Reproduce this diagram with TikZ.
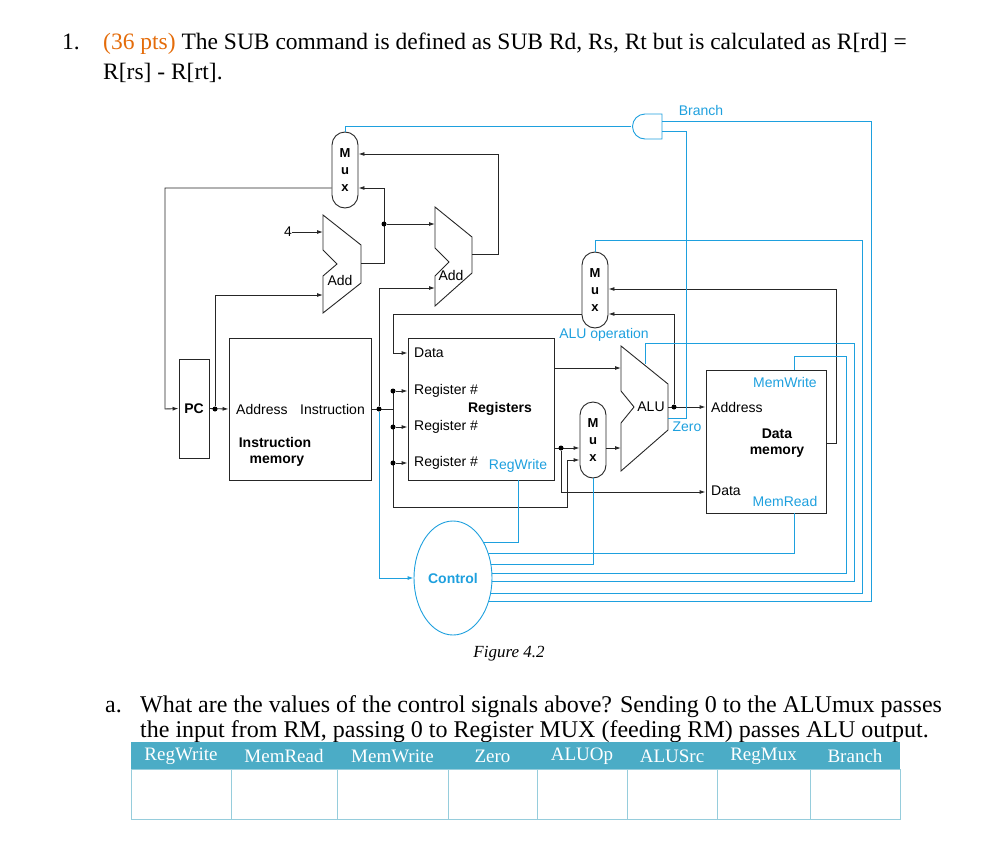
\documentclass[tikz,border=0pt]{standalone}
\usepackage{fontspec}
\setmainfont{Liberation Serif}
\newfontfamily\diagfont{Liberation Sans}
\usetikzlibrary{arrows.meta,shapes.geometric}
\definecolor{ctlblue}{RGB}{30,160,222}
\definecolor{ptsorange}{RGB}{228,108,10}
\definecolor{hdrteal}{RGB}{75,172,198}
\definecolor{gridteal}{RGB}{150,205,220}
\tikzset{
  wire/.style={draw=black!85,line width=0.9pt},
  ctl/.style={draw=ctlblue,line width=0.9pt},
  arr/.style={-{Latex[length=6pt,width=4pt]}},
  dot/.style={circle,fill=black,inner sep=0pt,minimum size=5pt},
  lbl/.style={inner sep=0pt,font=\diagfont\fontsize{14}{16}\selectfont},
  bold/.style={lbl,font=\diagfont\bfseries\fontsize{14}{16}\selectfont},
  blbl/.style={lbl,text=ctlblue},
  mux/.style={draw=black!85,line width=0.9pt,rounded corners=13pt,minimum width=26pt,
    inner sep=0pt,align=center,font=\diagfont\bfseries\fontsize{13}{17}\selectfont},
  box/.style={draw=black!85,line width=0.9pt,inner sep=0pt},
  hdr/.style={inner sep=0pt,text=white,font=\fontsize{19}{21}\selectfont},
  txt/.style={inner sep=0pt,anchor=base west,font=\fontsize{23.5}{26}\selectfont}
}
\begin{document}
\begin{tikzpicture}[x=1pt,y=-1pt]
\useasboundingbox (0,0) rectangle (1002,854);

% question text
\node[txt] at (62,49) {1.};
\node[txt] at (103,49) {{\color{ptsorange}(36 pts)} The SUB command is defined as SUB Rd, Rs, Rt but is calculated as R[rd] =};
\node[txt] at (103,79) {R[rs] - R[rt].};

% boxes
\node[box,minimum width=30pt,minimum height=99pt] (pc) at (194,408.5) {};
\node[bold] at (pc) {PC};
\node[box,minimum width=142pt,minimum height=142pt] (imem) at (300,409) {};
\node[box,minimum width=146pt,minimum height=142pt] (regs) at (481,409) {};
\node[box,minimum width=120pt,minimum height=143pt] (dmem) at (766,441.5) {};

% muxes
\node[mux,minimum height=76pt] (pcmux) at (345,170) {M\\u\\x};
\node[mux,minimum height=76pt] (wbmux) at (595,290) {M\\u\\x};
\node[mux,minimum height=76pt] (srcmux) at (593,440) {M\\u\\x};

% adders and alu
\draw[wire] (323,215) -- (361,245) -- (361,283) -- (323,313) -- (323,276) -- (337,264) -- (323,250) -- cycle;
\draw[wire] (435,207) -- (472,237) -- (472,273) -- (435,306) -- (435,276) -- (449,262) -- (435,248) -- cycle;
\draw[wire] (621,346) -- (668,384) -- (668,430) -- (621,471) -- (621,423) -- (634,407) -- (621,391) -- cycle;
\node[lbl] at (340,280) {Add};
\node[lbl] at (451,275) {Add};
\node[lbl] at (651,407) {ALU};

% branch gate
\draw[ctl] (662,114) -- (645,114) arc[start angle=90,end angle=270,radius=12.5pt] -- (662,139) -- cycle;

% labels
\node[lbl,anchor=west] at (236,409) {Address};
\node[lbl,anchor=east] at (365,409) {Instruction};
\node[bold,align=center] at (275,452) {Instruction\\\ memory};
\node[lbl,anchor=west] at (414,353) {Data};
\node[lbl,anchor=west] at (414,391) {Register \#};
\node[lbl,anchor=west] at (414,427) {Register \#};
\node[lbl,anchor=west] at (414,463) {Register \#};
\node[bold] at (500,409) {Registers};
\node[blbl] at (518,466) {RegWrite};
\node[blbl] at (604,335) {ALU operation};
\node[blbl] at (687,427) {Zero};
\node[blbl] at (701,110) {Branch};
\node[lbl,anchor=west] at (711,407) {Address};
\node[lbl,anchor=west] at (711,491) {Data};
\node[bold,align=center] at (777,443) {Data\\memory};
\node[blbl] at (785,382) {MemWrite};
\node[blbl] at (785,501) {MemRead};
\node[lbl] (four) at (288,232) {4};

% datapath wires
\draw[wire,arr] (pcmux.west |- 0,188) -| (165,409) -- (pc.west);
\draw[wire,arr] (pc.east) -- (imem.west);
\node[dot] (pcdot) at (215,409) {};
\draw[wire,arr] (pcdot) |- (323,295);
\draw[wire,arr] (four) -- (323,232);
\draw[wire,arr] (361,263) -| (384,188) -- (pcmux.east |- 0,188);
\node[dot] (incdot) at (384,224) {};
\draw[wire,arr] (incdot) -- (435,224);
\draw[wire,arr] (472,254) -| (498,154) -- (pcmux.east |- 0,154);
\draw[wire] (imem.east) -- (393,409);
\node[dot] (insdot) at (379,409) {};
\draw[wire,arr] (insdot) |- (435,288);
\draw[wire,arr] (393,391) |- (567,507) -- (567,460) -- (srcmux.west |- 0,460);
\foreach \y/\n in {391/ra,427/rb,463/rc} {
  \node[dot] (\n) at (393,\y) {};
  \draw[wire,arr] (\n) -- (regs.west |- 0,\y);
}
\draw[wire,arr] (wbmux.west |- 0,314) -| (393,353) -- (regs.west |- 0,353);
\draw[wire,arr] (regs.east |- 0,368) -- (621,368);
\draw[wire,arr] (regs.east |- 0,448) -- (srcmux.west |- 0,448);
\node[dot] (rddot) at (561,448) {};
\draw[wire,arr] (rddot) |- (dmem.west |- 0,492);
\draw[wire,arr] (srcmux.east |- 0,448) -- (621,448);
\draw[wire,arr] (668,407) -- (dmem.west |- 0,407);
\node[dot] (aludot) at (674,407) {};
\draw[wire,arr] (aludot) |- (wbmux.east |- 0,314);
\draw[wire,arr] (dmem.east |- 0,443) -| (836,289) -- (wbmux.east |- 0,289);

% control wires
\coordinate (ctrlc) at (453,578);
\draw[ctl] (631,126.5) -| (pcmux.north);
\draw[ctl] (662,121) -| (871,601) -- (ctrlc |- 0,601);
\draw[ctl] (662,131) -| (686,418) -- (668,418);
\draw[ctl] (wbmux.north) |- (862,240) |- (ctrlc |- 0,593);
\draw[ctl] (645,364) |- (854,343) |- (ctrlc |- 0,581);
\draw[ctl] (794,370) |- (846,356) |- (ctrlc |- 0,573);
\draw[ctl] (srcmux.south) |- (ctrlc |- 0,564);
\draw[ctl] (794,513) |- (ctrlc |- 0,553);
\draw[ctl] (518,480) |- (ctrlc |- 0,542);
\node[ellipse,draw=ctlblue,line width=0.9pt,fill=white,minimum width=78pt,minimum height=114pt,
  inner sep=0pt,text=ctlblue,font=\diagfont\bfseries\fontsize{14}{16}\selectfont] (ctrl) at (ctrlc) {Control};
\draw[ctl,arr] (insdot) |- (ctrl.west);

\node[inner sep=0pt,font=\itshape\fontsize{17}{20}\selectfont] at (509,654) {Figure 4.2};

% part a
\node[txt,font=\fontsize{24}{26}\selectfont] at (105,712) {a.};
\node[txt,font=\fontsize{24}{26}\selectfont] at (140,712) {What are the values of the control signals above? Sending 0 to the ALUmux passes};
\node[txt,font=\fontsize{24}{26}\selectfont] at (140,737) {the input from RM, passing 0 to Register MUX (feeding RM) passes ALU output.};

% table
\fill[hdrteal] (131,742) rectangle (900,769);
\draw[gridteal,line width=0.8pt] (131,769) rectangle (900,819);
\foreach \x in {231,337,448,537,627,717,810} {
  \draw[gridteal,line width=0.8pt] (\x,769) -- (\x,819);
}
\foreach \x/\t in {181/RegWrite,284/MemRead,392.5/MemWrite,492.5/Zero,582/ALUOp,672/ALUSrc,763.5/RegMux,855/Branch} {
  \node[hdr] at (\x,756) {\t};
}
\end{tikzpicture}
\end{document}
